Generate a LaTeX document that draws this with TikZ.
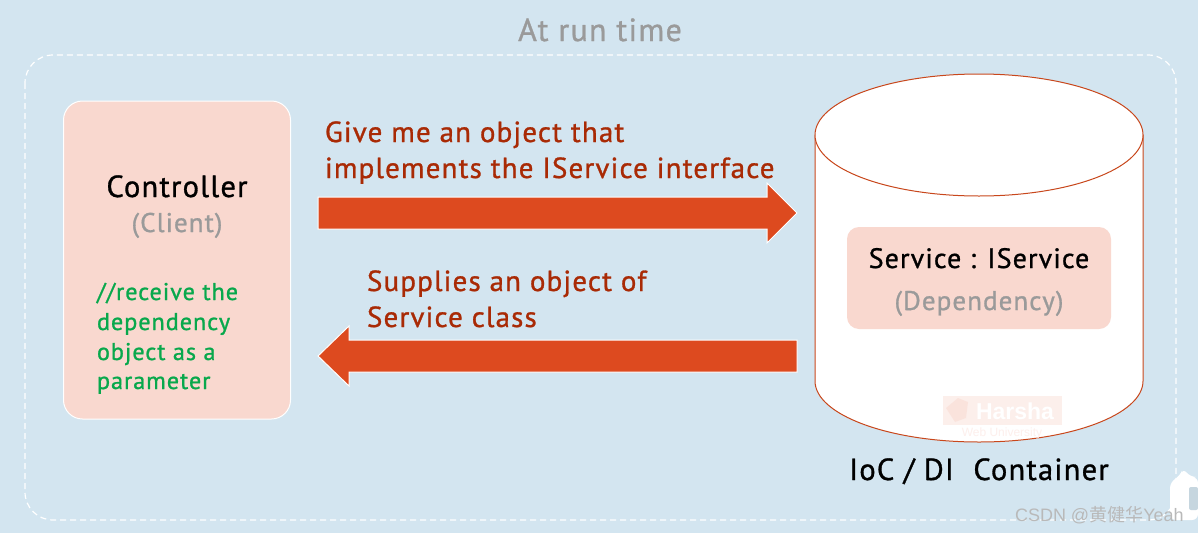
\documentclass[tikz,border=0pt]{standalone}
\usepackage{fontspec}
\setmainfont{PT Sans}[LetterSpace=4,FakeBold=1]
\newfontfamily\cjk{Noto Sans CJK SC}
\newfontfamily\wm{Liberation Sans}
\definecolor{bgblue}{HTML}{D3E5F0}
\definecolor{pinkbox}{HTML}{F9D8CF}
\definecolor{arrowred}{HTML}{DD4A1F}
\definecolor{labelred}{HTML}{A92A05}
\definecolor{drumline}{HTML}{C8471C}
\definecolor{subgrey}{HTML}{9A9A9A}
\definecolor{codegreen}{HTML}{08A84C}
\tikzset{
  x=1pt,y=-1pt,
  txt/.style={inner sep=0pt,outer sep=0pt},
  title/.style={txt,anchor=base,font=\fontsize{30.5}{30.5}\selectfont,text=black},
  svctitle/.style={txt,anchor=base,font=\fontsize{28}{28}\selectfont,text=black},
  sub/.style={txt,anchor=base,font=\fontsize{27}{27}\selectfont,text=subgrey},
  lab/.style={txt,anchor=base west,font=\fontsize{29}{29}\selectfont,text=labelred},
  code/.style={txt,anchor=base west,font=\fontsize{24.2}{24.2}\selectfont,text=codegreen},
  pinkpanel/.style={draw=white,line width=1pt,fill=pinkbox,rounded corners=19pt},
  fatarrow/.style={fill=arrowred,draw=white,line width=1pt},
}
\begin{document}
\begin{tikzpicture}
\useasboundingbox (0,0) rectangle (1198,533);
\fill[bgblue] (0,0) rectangle (1198,533);
% frame
\draw[white,line width=1.2pt,dash pattern=on 6pt off 4pt,rounded corners=28pt] (25,55) rectangle (1176,520);
\node[txt,anchor=base,font=\fontsize{32}{32}\selectfont,text=subgrey] (head) at (600,41) {At run time};
% controller
\node[pinkpanel,minimum width=227pt,minimum height=318pt,anchor=north west] (ctrl) at (63,100.5) {};
\node[title] (ctrlname) at (177,197) {Controller};
\node[sub] (ctrlsub) at (177,232) {(Client)};
\node[code] (c1) at (97,300) {//receive the};
\node[code] (c2) at (97,330) {dependency};
\node[code] (c3) at (97,360) {object as a};
\node[code] (c4) at (97,389) {parameter};
% drum
\path[fill=white,draw=drumline,line width=1pt] (815,135) -- (815,381) arc[start angle=180,end angle=0,x radius=164,y radius=61] -- (1143,135) -- cycle;
\path[fill=white,draw=drumline,line width=1pt] (979,135) ellipse[x radius=164,y radius=61];
% service
\node[fill=pinkbox,rounded corners=12pt,minimum width=264pt,minimum height=102pt,anchor=north west,txt] (svc) at (847,227) {};
\node[svctitle] (svcname) at (979,268) {Service : IService};
\node[sub] (svcsub) at (979,310) {(Dependency)};
\node[title] (cont) at (979,480) {IoC / DI\,\, Container};
% arrows
\fill[fatarrow] (318,197) -- (767,197) -- (767,183) -- (797,213) -- (767,243) -- (767,229) -- (318,229) -- cycle;
\fill[fatarrow] (797,340) -- (349,340) -- (349,326) -- (318,356) -- (349,386) -- (349,372) -- (797,372) -- cycle;
\node[lab] (l1) at (325,142) {Give me an object that};
\node[lab] (l2) at (325,178) {implements the IService interface};
\node[lab] (l3) at (367,291) {Supplies an object of};
\node[lab] (l4) at (367,327) {Service class};
% watermarks
\fill[pinkbox,opacity=.4] (943,396) rectangle (1062,425);
\fill[pinkbox,opacity=.5] (946,408) -- (958,398) -- (968,402) -- (966,418) -- (955,422) -- cycle;
\node[txt,anchor=base west,font=\wm\bfseries\fontsize{23}{23}\selectfont,text=white] (wm1) at (976,419) {Harsha};
\node[txt,anchor=base,font=\wm\fontsize{12}{12}\selectfont,text=pinkbox!40!white] (wm2) at (1002,436) {Web University};
\fill[white,rounded corners=6pt] (1170,482) -- (1170,520) -- (1198,520) -- (1198,477) -- (1190,477) -- (1183,468) -- (1180,476) -- cycle;
\fill[bgblue!85!gray,rounded corners=2pt] (1198,487) -- (1189,487) -- (1189,510) -- (1198,510) -- cycle;
\node[txt,anchor=base west,font=\wm\fontsize{18}{18}\selectfont,text=white!45!gray] (csdn) at (1015,521) {CSDN @{\cjk 黄健华}Yeah};
\end{tikzpicture}
\end{document}
